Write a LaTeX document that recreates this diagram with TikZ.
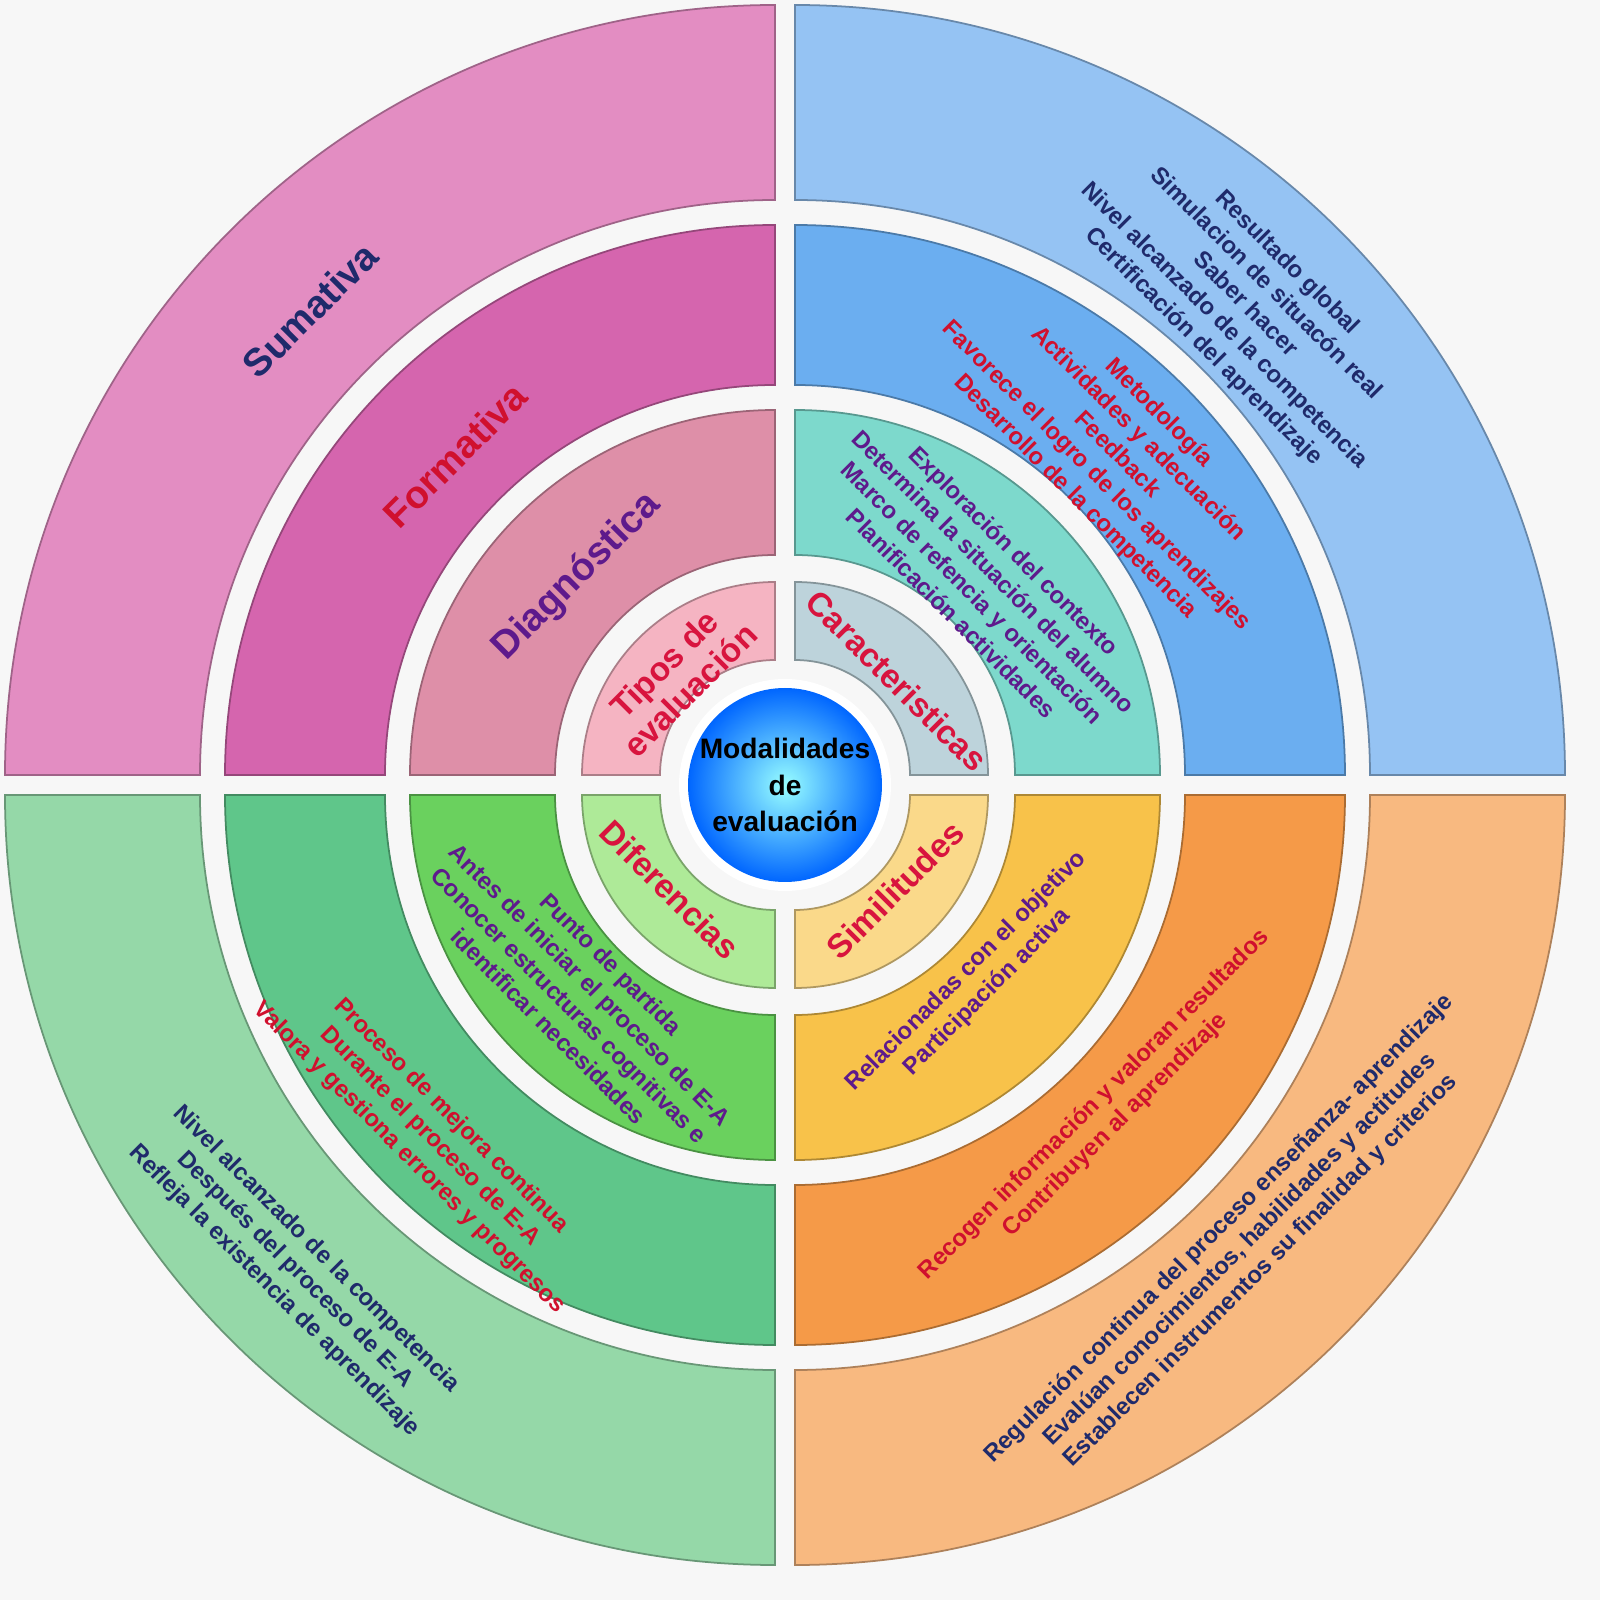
\documentclass[tikz,border=0pt]{standalone}
\usepackage{fontspec}
\setmainfont{Liberation Sans}
\begin{document}
\begin{tikzpicture}[x=0.01cm,y=0.01cm,
  rt/.style={font=\bfseries\fontsize{6.8}{8.4}\selectfont,align=center,inner sep=0pt},
  big/.style={font=\bfseries\fontsize{11}{12}\selectfont,inner sep=0pt},
  mid/.style={font=\bfseries\fontsize{9.5}{10.5}\selectfont,align=center,inner sep=0pt}]
\definecolor{bg}{HTML}{F7F7F7}
\definecolor{navy}{HTML}{1F2A6B}
\definecolor{rd}{HTML}{D0102E}
\definecolor{pu}{HTML}{5E1A8C}
\definecolor{cr}{HTML}{D8143E}
\definecolor{a1}{HTML}{E38DC2}\definecolor{a2}{HTML}{D565AE}\definecolor{a3}{HTML}{DE8FA8}\definecolor{a4}{HTML}{F5B4C2}
\definecolor{b1}{HTML}{95C3F3}\definecolor{b2}{HTML}{6BAEF0}\definecolor{b3}{HTML}{7DD9CC}\definecolor{b4}{HTML}{BDD3DB}
\definecolor{c1}{HTML}{F8B980}\definecolor{c2}{HTML}{F59A48}\definecolor{c3}{HTML}{F8C24A}\definecolor{c4}{HTML}{FAD98A}
\definecolor{d1}{HTML}{95D8A8}\definecolor{d2}{HTML}{5FC68A}\definecolor{d3}{HTML}{6AD15E}\definecolor{d4}{HTML}{AEEA98}
\fill[bg] (-785,-815) rectangle (815,785);
\newcommand\sect[4]{%
 \fill[#1,draw=#1!70!black,line width=0.5pt,shift={(#2+45:14.14)}]
  (#2:#3) arc[start angle=#2,end angle=#2+90,radius=#3]
  -- (#2+90:#4) arc[start angle=#2+90,end angle=#2,radius=#4] -- cycle;}
\sect{a1}{90}{575}{770}
\sect{a2}{90}{390}{550}
\sect{a3}{90}{220}{365}
\sect{a4}{90}{115}{193}
\sect{b1}{0}{575}{770}
\sect{b2}{0}{390}{550}
\sect{b3}{0}{220}{365}
\sect{b4}{0}{115}{193}
\sect{c1}{270}{575}{770}
\sect{c2}{270}{390}{550}
\sect{c3}{270}{220}{365}
\sect{c4}{270}{115}{193}
\sect{d1}{180}{575}{770}
\sect{d2}{180}{390}{550}
\sect{d3}{180}{220}{365}
\sect{d4}{180}{115}{193}
\fill[white] (0,0) circle (106);
\shade[inner color=cyan!40!white,outer color=blue!60!cyan] (0,0) circle (97);
\node[font=\bfseries\fontsize{8}{10.5}\selectfont,align=center] (c) at (0,0) {Modalidades\\de\\evaluación};
\node[big,text=navy,rotate=45] (s) at (-475,475) {Sumativa};
\node[big,text=rd,rotate=45] (f) at (-330,330) {Formativa};
\node[big,text=pu,rotate=45] (d) at (-208,208) {Diagnóstica};
\node[mid,text=cr,rotate=45] (t) at (-108,108) {Tipos de\\evaluación};
\node[mid,text=cr,rotate=-45] (ca) at (112,104) {Caracteristicas};
\node[rt,text=pu,rotate=-45] (tr2) at (198,203) {Exploración del contexto\\Determina la situación del alumno\\Marco de refencia y orientación\\Planificación actividades};
\node[rt,text=rd,rotate=-45] (tr3) at (332,330) {Metodología\\Actividades y adecuación\\Feedback\\Favorece el logro de los aprendizajes\\Desarrollo de la competencia};
\node[rt,text=navy,rotate=-45] (tr4) at (460,480) {Resultado global\\Simulacion de situacón real\\Saber hacer\\Nivel alcanzado de la competencia\\Certificación del aprendizaje};
\node[mid,text=cr,rotate=-45] (di) at (-115,-105) {Diferencias};
\node[rt,text=pu,rotate=-45] (bl2) at (-205,-210) {Punto de partida\\Antes de iniciar el proceso de E-A\\Conocer estructuras cognitivas e\\identificar necesidades};
\node[rt,text=rd,rotate=-45] (bl3) at (-355,-352) {Proceso de mejora continua\\Durante el proceso de E-A\\Valora y gestiona errores y progresos};
\node[rt,text=navy,rotate=-45] (bl4) at (-490,-485) {Nivel alcanzado de la competencia\\Después del proceso de E-A\\Refleja la existencia de aprendizaje};
\node[mid,text=cr,rotate=45] (si) at (110,-105) {Similitudes};
\node[rt,text=pu,rotate=45] (br2) at (192,-197) {Relacionadas con el objetivo\\Participación activa};
\node[rt,text=rd,rotate=45] (br3) at (320,-330) {Recogen información y valoran resultados\\Contribuyen al aprendizaje};
\node[rt,text=navy,rotate=45] (br4) at (455,-465) {Regulación continua del proceso enseñanza- aprendizaje\\Evalúan conocimientos, habilidades y actitudes\\Establecen instrumentos su finalidad y criterios};
\pgfresetboundingbox
\useasboundingbox (-785,-815) rectangle (815,785);
\end{tikzpicture}
\end{document}
